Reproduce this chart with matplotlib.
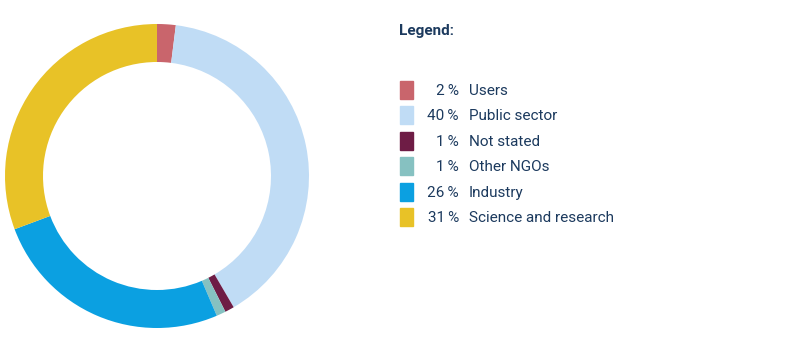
import matplotlib
matplotlib.use('Agg')
import matplotlib.pyplot as plt
from matplotlib.patches import Rectangle

categories = ['Users', 'Public sector', 'Not stated', 'Other NGOs', 'Industry', 'Science and research']
shares = [2, 40, 1, 1, 26, 31]
colors = ['#c9656c', '#c0dcf5', '#6e1c45', '#86c1c1', '#0ba0e1', '#e8c227']

text_color = '#1c3a5e'
plt.rcParams['font.family'] = ['Roboto', 'DejaVu Sans']

W, H = 801, 351
fig = plt.figure(figsize=(W / 100, H / 100), dpi=100)

# donut: center (157, 176) px, outer radius 152 px
cx, cy, r = 157, 176, 152
ax = fig.add_axes([(cx - r) / W, (H - cy - r) / H, 2 * r / W, 2 * r / H])
ax.pie(shares, colors=colors, startangle=90, counterclock=False, radius=1,
       wedgeprops=dict(width=0.25, linewidth=0))
ax.set_xlim(-1, 1)
ax.set_ylim(-1, 1)
ax.set_aspect('equal')
ax.axis('off')

# legend drawn in figure pixel coords
fig.text(399 / W, 1 - 31 / H, 'Legend:', color=text_color, fontsize=11,
         fontweight='bold', va='center', ha='left')
y0, step = 91, 25.4
for i, (cat, val, col) in enumerate(zip(categories, shares, colors)):
    y = y0 + i * step
    fig.patches.append(Rectangle((400 / W, 1 - (y + 8) / H), 13 / W, 18 / H,
                                 transform=fig.transFigure, color=col, figure=fig))
    fig.text(459 / W, 1 - y / H, f'{val}\u2009%', color=text_color, fontsize=11,
             va='center', ha='right')
    fig.text(469 / W, 1 - y / H, cat, color=text_color, fontsize=11,
             va='center', ha='left')

fig.savefig('out.png', dpi=100, facecolor='white')
